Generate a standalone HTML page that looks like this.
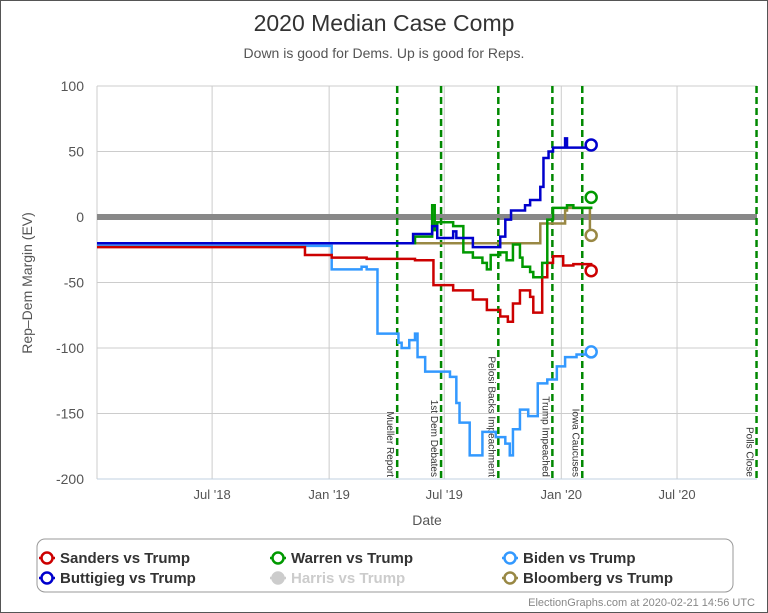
<!DOCTYPE html>
<html><head><meta charset="utf-8"><style>
body{margin:0;background:#fff;}
svg{display:block;font-family:"Liberation Sans",sans-serif;}
</style></head><body>
<svg id="chart" width="768" height="613">
<rect x="0.5" y="0.5" width="767" height="612" fill="#fff" stroke="#555"/>
<text x="384" y="31" text-anchor="middle" font-size="23" fill="#333">2020 Median Case Comp</text>
<text x="384" y="58" text-anchor="middle" font-size="14" fill="#555">Down is good for Dems. Up is good for Reps.</text>
<text transform="translate(32,283) rotate(-90)" text-anchor="middle" font-size="14" fill="#555">Rep–Dem Margin (EV)</text>
<text x="427" y="525" text-anchor="middle" font-size="14" fill="#555">Date</text>
<g id="grid"></g><g id="events"></g><g id="series"></g>
<rect x="37" y="539" width="696" height="53" rx="8" fill="#fff" stroke="#999"/>
<g id="legend"></g>
<text x="755" y="606" text-anchor="end" font-size="11" fill="#888">ElectionGraphs.com at 2020-02-21 14:56 UTC</text>
</svg>
<script>
const yTicks=[100,50,0,-50,-100,-150,-200];
const xTickDates=["2018-07-01","2019-01-01","2019-07-01","2020-01-01","2020-07-01"];
const xTickLabels=["Jul '18","Jan '19","Jul '19","Jan '20","Jul '20"];
const eventDates=["2019-04-18","2019-06-26","2019-09-24","2019-12-18","2020-02-03","2020-11-03"];
const eventLabels=["Mueller Report","1st Dem Debates","Pelosi Backs Impeachment","Trump Impeached","Iowa Caucuses","Polls Close"];
const sandersDates=["2018-01-01","2018-11-24","2019-01-05","2019-03-01","2019-05-16","2019-06-14","2019-07-15","2019-08-15","2019-09-06","2019-09-27","2019-10-09","2019-10-17","2019-10-28","2019-11-13","2019-11-18","2019-12-02","2019-12-10","2019-12-19","2020-01-04","2020-01-20","2020-02-17"];
const sandersValues=[-23,-29,-31,-32,-33,-52,-56,-63,-71,-76,-80,-66,-56,-61,-73,-46,-35,-30,-37,-36,-37];
const buttigiegDates=["2018-01-01","2019-05-13","2019-06-12","2019-06-20","2019-07-15","2019-07-20","2019-08-15","2019-09-27","2019-10-05","2019-10-14","2019-11-05","2019-11-13","2019-11-29","2019-12-04","2019-12-12","2019-12-19","2020-01-07","2020-01-10","2020-02-17"];
const buttigiegValues=[-20,-13,-7,-16,-11,-16,-23,-15,-2,5,9,13,23,45,50,53,60,53,53];
const warrenDates=["2018-01-01","2019-05-16","2019-06-12","2019-06-16","2019-06-20","2019-07-15","2019-07-31","2019-08-15","2019-08-30","2019-09-06","2019-09-12","2019-09-27","2019-10-07","2019-10-17","2019-10-28","2019-11-01","2019-11-13","2019-11-18","2019-12-02","2019-12-10","2019-12-19","2020-01-10","2020-01-20","2020-02-17"];
const warrenValues=[-20,-15,9,-10,-4,-7,-27,-31,-35,-40,-29,-27,-33,-21,-31,-38,-42,-46,-35,-2,7,9,7,8];
const bloombergDates=["2018-01-01","2019-11-29","2020-01-07","2020-01-10","2020-02-15"];
const bloombergValues=[-20,-5,5,7,-12];
const bidenDates=["2018-01-01","2019-01-05","2019-02-21","2019-03-01","2019-03-18","2019-04-20","2019-04-25","2019-05-07","2019-05-16","2019-05-20","2019-06-01","2019-07-10","2019-07-20","2019-07-25","2019-08-10","2019-08-30","2019-09-20","2019-10-05","2019-10-12","2019-10-17","2019-10-28","2019-11-10","2019-11-25","2019-12-10","2019-12-25","2020-01-07","2020-01-25","2020-02-17"];
const bidenValues=[-22,-40,-38,-40,-89,-96,-100,-94,-89,-107,-118,-122,-142,-157,-182,-164,-168,-173,-182,-162,-147,-152,-127,-124,-114,-107,-105,-103];
const endValues=[-41,55,15,-14,-103];

const NS="http://www.w3.org/2000/svg";
const X0=97,X1=757,Y0=86,Y1=479;
const t0=Date.UTC(2018,0,1);
function xs(d){const p=d.split("-");return X0+((Date.UTC(+p[0],+p[1]-1,+p[2])-t0)/864e5)*0.636;}
function ys(v){return Y0+(100-v)*(Y1-Y0)/300;}
function mk(tag,attrs,parent){const e=document.createElementNS(NS,tag);for(const k in attrs)e.setAttribute(k,attrs[k]);parent.appendChild(e);return e;}
const grid=document.getElementById("grid");
yTicks.forEach(v=>{
  const l=mk("line",{x1:X0,x2:X1,y1:ys(v),y2:ys(v),stroke:"#ccc"},grid);
  
  
  const t=mk("text",{x:84,y:ys(v)+5,"text-anchor":"end","font-size":14,fill:"#555"},grid);
  t.textContent=v;
  
  
});
xTickDates.forEach((d,i)=>{
  const l=mk("line",{x1:xs(d),x2:xs(d),y1:Y0,y2:Y1,stroke:"#ccc"},grid);
  
  
  const t=mk("text",{x:xs(d),y:499,"text-anchor":"middle","font-size":13,fill:"#555"},grid);
  t.textContent=xTickLabels[i];
  
  
});
const ax=mk("line",{x1:X0,x2:X0,y1:Y0,y2:Y1,stroke:"#ccc"},grid);


const bx=mk("line",{x1:X0,x2:X1,y1:Y1,y2:Y1,stroke:"#c0d0e0"},grid);


const zl=mk("line",{x1:X0,x2:X1,y1:ys(0),y2:ys(0),stroke:"#888","stroke-width":6},grid);


const ev=document.getElementById("events");
eventDates.forEach((d,i)=>{
  const x=xs(d);
  const l=mk("line",{x1:x,x2:x,y1:Y0,y2:Y1,stroke:"#080","stroke-width":2.5,"stroke-dasharray":"7,4"},ev);
  
  
  const t=mk("text",{transform:`translate(${x-10},${Y1-2}) rotate(90)`,"text-anchor":"end","font-size":10,fill:"#333"},ev);
  t.textContent=eventLabels[i];
  
  
});
const sg=document.getElementById("series");
const series=[
 {name:"bloomberg",d:bloombergDates,v:bloombergValues,c:"#998844",e:3},
 {name:"biden",d:bidenDates,v:bidenValues,c:"#3399ff",e:4},
 {name:"sanders",d:sandersDates,v:sandersValues,c:"#cc0000",e:0},
 {name:"warren",d:warrenDates,v:warrenValues,c:"#009900",e:2},
 {name:"buttigieg",d:buttigiegDates,v:buttigiegValues,c:"#0000cc",e:1}];
series.forEach(s=>{
  let p="";
  s.d.forEach((d,i)=>{const x=xs(d),y=ys(s.v[i]);if(i===0)p+=`M${x},${y}`;else p+=`H${x}V${y}`;});
  const path=mk("path",{d:p,fill:"none",stroke:s.c,"stroke-width":2.5},sg);
  
  
  const c=mk("circle",{cx:xs("2020-02-17"),cy:ys(endValues[s.e]),r:5.5,fill:"#fff",stroke:s.c,"stroke-width":2.5},sg);
  
  
});
const lg=document.getElementById("legend");
const legendItems=[["Sanders vs Trump","#cc0000",47,558,false],["Warren vs Trump","#009900",278,558,false],["Biden vs Trump","#3399ff",510,558,false],["Buttigieg vs Trump","#0000cc",47,578,false],["Harris vs Trump","#cccccc",278,578,true],["Bloomberg vs Trump","#998844",510,578,false]];
legendItems.forEach(it=>{
  const g=mk("g",{},lg);
  
  
  mk("line",{x1:it[2]-8,x2:it[2]+8,y1:it[3],y2:it[3],stroke:it[1],"stroke-width":2.5},g);
  mk("circle",{cx:it[2],cy:it[3],r:5.5,fill:it[4]?it[1]:"#fff",stroke:it[1],"stroke-width":2.5},g);
  const t=mk("text",{x:it[2]+13,y:it[3]+5,"font-size":15,"font-weight":"bold",fill:it[4]?"#ccc":"#333"},g);
  t.textContent=it[0];
});
</script>
</body></html>
